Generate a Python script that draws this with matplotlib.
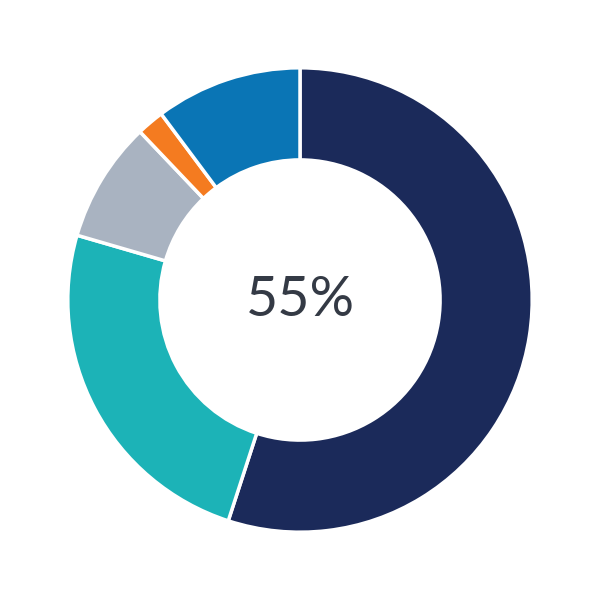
import matplotlib.pyplot as plt

# slice values, clockwise from 12 o'clock
labels = ["Navy", "Teal", "Gray", "Orange", "Blue"]
values = [55, 24.5, 8.4, 1.9, 10.2]
colors = ["#1b2a5a", "#1cb3b7", "#a9b3c1", "#f47b20", "#0a75b5"]
center_text = "55%"

fig = plt.figure(figsize=(6, 6), dpi=100)
ax = fig.add_axes([0, 0, 1, 1])
ax.pie(values, colors=colors, startangle=90, counterclock=False, radius=0.774,
       wedgeprops=dict(width=0.307, edgecolor="white", linewidth=2.5))
ax.text(0, 0, center_text, ha="center", va="center", fontsize=40,
        family="Lato", color="#343a45")
ax.set_xlim(-1, 1)
ax.set_ylim(-1, 1)
ax.set_aspect("equal")
ax.axis("off")
fig.savefig("out.png", dpi=100, facecolor="white")
